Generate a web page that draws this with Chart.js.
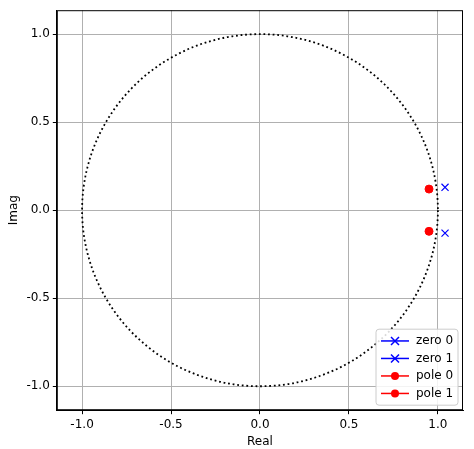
<!DOCTYPE html>
<html>
<head>
<meta charset="utf-8">
<script src="https://cdn.jsdelivr.net/npm/chart.js@4"></script>
<style>
  html, body { margin: 0; padding: 0; background: #fff; }
  #wrap { width: 474px; height: 449px; }
</style>
</head>
<body>
<div id="wrap"><canvas id="pz"></canvas></div>
<script>
// zeros and poles
const zeroLabels = ['zero 0', 'zero 1'];
const zeroReal = [1.04, 1.04];
const zeroImag = [0.13, -0.13];
const poleLabels = ['pole 0', 'pole 1'];
const poleReal = [0.95, 0.95];
const poleImag = [0.12, -0.12];
// unit circle: centre and radius
const circleCentre = [0, 0];
const circleRadius = 1;
const tickValues = [-1.0, -0.5, 0.0, 0.5, 1.0];

const datasets = [];
zeroLabels.forEach((lab, i) => datasets.push({
    label: lab, data: [{ x: zeroReal[i], y: zeroImag[i] }],
    pointStyle: 'crossRot', pointRadius: 5, borderColor: '#0000ff', backgroundColor: '#0000ff',
    borderWidth: 1.2, showLine: false
}));
poleLabels.forEach((lab, i) => datasets.push({
    label: lab, data: [{ x: poleReal[i], y: poleImag[i] }],
    pointStyle: 'circle', pointRadius: 4, borderColor: '#ff0000', backgroundColor: '#ff0000',
    showLine: false
}));

// dotted unit circle, drawn through the scales
const circlePlugin = {
    id: 'unitCircle',
    beforeDatasetsDraw(chart) {
        const { ctx, scales: { x, y } } = chart;
        const cx = x.getPixelForValue(circleCentre[0]);
        const cy = y.getPixelForValue(circleCentre[1]);
        const rx = Math.abs(x.getPixelForValue(circleRadius) - cx);
        const ry = Math.abs(y.getPixelForValue(circleRadius) - cy);
        ctx.save();
        ctx.strokeStyle = '#000';
        ctx.lineWidth = 1.8;
        ctx.setLineDash([1.8, 2.8]);
        ctx.beginPath();
        ctx.ellipse(cx, cy, rx, ry, 0, 0, Math.PI * 2);
        ctx.stroke();
        ctx.restore();
    }
};

// matplotlib-like legend box in the lower right, plus frame
const legendPlugin = {
    id: 'boxLegend',
    afterDatasetsDraw(chart) {
        const { ctx, chartArea: a } = chart;
        ctx.save();
        ctx.strokeStyle = '#000';
        ctx.lineWidth = 1;
        ctx.strokeRect(a.left + 0.5, a.top + 0.5, a.right - a.left - 1, a.bottom - a.top - 1);
        const w = 82, rowH = 17.5, h = rowH * datasets.length + 6;
        const bx = a.right - w - 5, by = a.bottom - h - 5;
        ctx.fillStyle = 'rgba(255,255,255,0.85)';
        ctx.strokeStyle = '#ccc';
        ctx.beginPath();
        ctx.roundRect(bx, by, w, h, 3);
        ctx.fill();
        ctx.stroke();
        ctx.font = '12px "DejaVu Sans"';
        ctx.textBaseline = 'middle';
        datasets.forEach((d, i) => {
            const yy = by + 3 + rowH * i + rowH / 2;
            ctx.strokeStyle = d.borderColor;
            ctx.fillStyle = d.borderColor;
            ctx.lineWidth = 1.5;
            ctx.beginPath();
            ctx.moveTo(bx + 5, yy); ctx.lineTo(bx + 33, yy); ctx.stroke();
            const mx = bx + 19;
            if (d.pointStyle === 'crossRot') {
                ctx.beginPath();
                ctx.moveTo(mx - 4, yy - 4); ctx.lineTo(mx + 4, yy + 4);
                ctx.moveTo(mx - 4, yy + 4); ctx.lineTo(mx + 4, yy - 4);
                ctx.stroke();
            } else {
                ctx.beginPath(); ctx.arc(mx, yy, 4, 0, Math.PI * 2); ctx.fill();
            }
            ctx.fillStyle = '#000';
            ctx.fillText(d.label, bx + 40, yy);
        });
        ctx.restore();
    }
};

const tickFont = { family: 'DejaVu Sans', size: 12 };
new Chart(document.getElementById('pz').getContext('2d'), {
    type: 'scatter',
    data: { datasets: datasets },
    options: {
        responsive: true,
        maintainAspectRatio: false,
        animation: false,
        layout: { padding: { top: 3, right: 11, left: 5, bottom: 0 } },
        plugins: { legend: { display: false }, tooltip: { enabled: false } },
        scales: {
            x: {
                type: 'linear', min: -1.142, max: 1.141,
                afterBuildTicks: s => { s.ticks = tickValues.map(v => ({ value: v })); },
                ticks: { color: '#000', font: tickFont, callback: v => v.toFixed(1) },
                grid: { color: '#b0b0b0', tickColor: '#000', tickLength: 4 },
                border: { color: '#000' },
                title: { display: true, text: 'Real', color: '#000', font: tickFont, padding: { top: 0, bottom: 0 } }
            },
            y: {
                type: 'linear', min: -1.136, max: 1.136,
                afterBuildTicks: s => { s.ticks = tickValues.map(v => ({ value: v })); },
                ticks: { color: '#000', font: tickFont, callback: v => v.toFixed(1) },
                grid: { color: '#b0b0b0', tickColor: '#000', tickLength: 4 },
                border: { color: '#000' },
                title: { display: true, text: 'Imag', color: '#000', font: tickFont, padding: 2 }
            }
        }
    },
    plugins: [circlePlugin, legendPlugin]
});
</script>
</body>
</html>
